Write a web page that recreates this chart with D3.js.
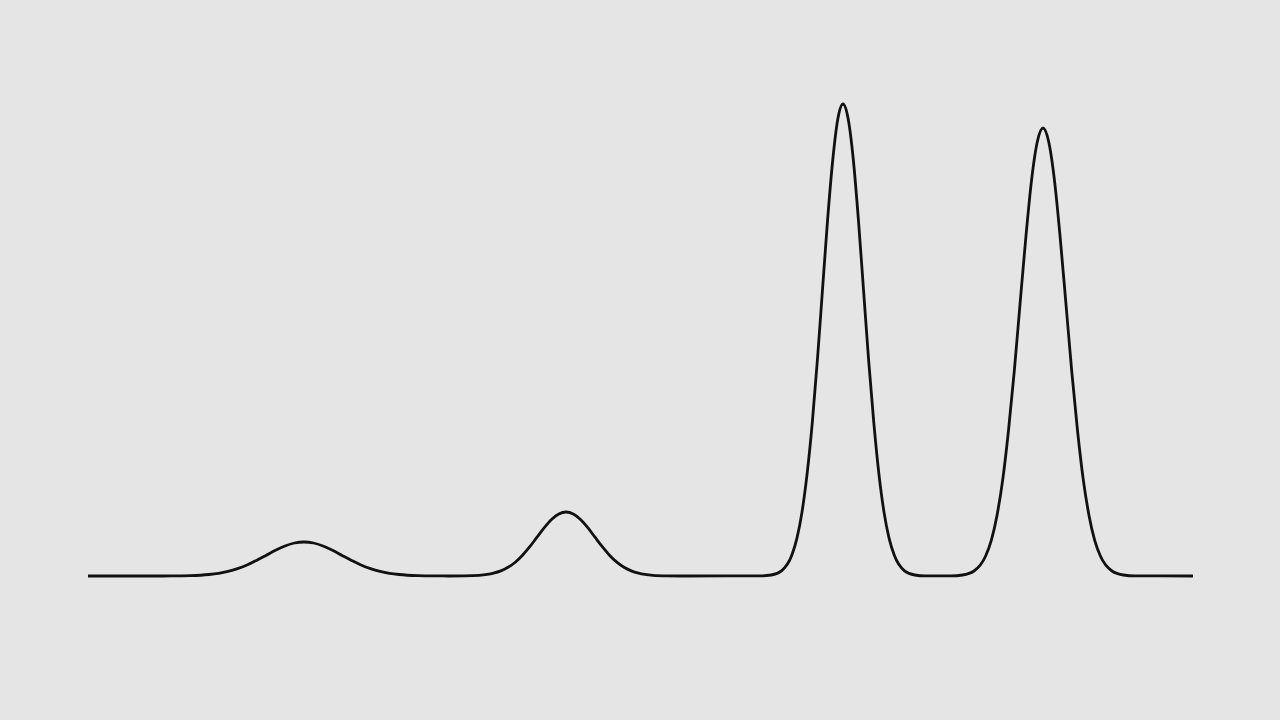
<!DOCTYPE html>
<html>
<head>
<meta charset="utf-8">
<script src="https://cdn.jsdelivr.net/npm/d3@7"></script>
<style>
  html, body { margin: 0; padding: 0; background: #e5e5e5; }
  svg { display: block; }
</style>
</head>
<body>
<svg id="chart" width="1280" height="720"></svg>
<script>
// Retention time (arbitrary units)
const times = [
  0, 6.4, 8.3, 10.2, 12.1, 13.05, 14.0, 14.95, 15.9, 16.85, 17.8, 18.75, 19.7, 20.65, 21.6,
  22.55, 23.5, 24.45, 25.4, 26.35, 27.3, 28.25, 29.2, 30.15, 31.1, 33.0, 34.9, 36.0,
  37.65, 39.1, 40.55, 41.28, 42.0, 42.73, 43.45, 44.18, 44.9, 45.63, 46.35, 47.08, 47.8,
  48.53, 49.25, 49.98, 50.7, 51.43, 52.15, 52.88, 53.6, 54.33, 55.05, 56.5, 57.95, 59.4,
  67.3, 68.33, 69.35, 70.38, 70.89, 71.4, 71.91, 72.43, 72.94, 73.45, 73.96, 74.48, 74.99, 75.5,
  76.01, 76.53, 77.04, 77.55, 78.06, 78.58, 79.09, 79.6, 80.11, 80.63, 81.65, 82.68, 83.7,
  86.3, 87.45, 88.6, 89.75, 90.33, 90.9, 91.48, 92.05, 92.63, 93.2, 93.78, 94.35, 94.93, 95.5,
  96.07, 96.65, 97.22, 97.8, 98.37, 98.95, 99.52, 100.1, 100.67, 101.25, 102.4, 103.55, 104.7, 110.5
];
// Detector signal at each time
const signal = [
  0, 0, 0.07, 0.38, 1.5, 2.7, 4.6, 7.35, 11.0, 15.6, 20.6, 25.7, 30.0, 33.0, 34,
  33.0, 30.0, 25.7, 20.6, 15.6, 11.0, 7.35, 4.6, 2.7, 1.5, 0.38, 0.07, 0.02,
  0.14, 0.7, 2.8, 5.1, 8.7, 13.8, 20.8, 29.3, 38.8, 48.3, 56.5, 62.0, 64,
  62.0, 56.5, 48.3, 38.8, 29.3, 20.8, 13.8, 8.7, 5.1, 2.8, 0.7, 0.14, 0,
  0.14, 1.0, 5.2, 20.7, 37.6, 63.9, 102.1, 153.3, 216.1, 286.3, 356.3, 416.5, 457.5, 472,
  457.5, 416.5, 356.3, 286.3, 216.1, 153.3, 102.1, 63.9, 37.6, 20.7, 5.2, 1.0, 0.14,
  0.13, 1.0, 5.0, 19.7, 35.7, 60.6, 96.9, 145.5, 205.1, 271.7, 338.2, 395.4, 434.2, 448,
  434.2, 395.4, 338.2, 271.7, 205.1, 145.5, 96.9, 60.6, 35.7, 19.7, 5.0, 1.0, 0.13, 0
];

const points = times.map((t, i) => ({ t, v: signal[i] }));

const svg = d3.select("#chart");
const x = d3.scaleLinear().domain([0, 110.5]).range([88, 1193]);
const y = d3.scaleLinear().domain([0, 472]).range([576, 104]);

const line = d3.line()
  .x(d => x(d.t))
  .y(d => y(d.v))
  .curve(d3.curveMonotoneX);

svg.append("rect").attr("width", 1280).attr("height", 720).attr("fill", "#e5e5e5");

svg.append("path")
  .datum(points)
  .attr("fill", "none")
  .attr("stroke", "#111111")
  .attr("stroke-width", 2.8)
  .attr("stroke-linejoin", "round")
  .attr("d", line);
</script>
</body>
</html>
